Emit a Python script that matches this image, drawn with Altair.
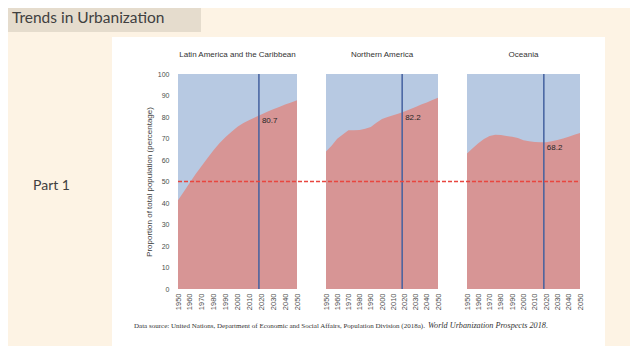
import altair as alt
import pandas as pd

# ---------------- data ----------------
years = [1950, 1955, 1960, 1965, 1970, 1975, 1980, 1985, 1990, 1995, 2000,
         2005, 2010, 2015, 2018, 2020, 2025, 2030, 2035, 2040, 2045, 2050]
latin_america = [41.3, 45.3, 49.5, 53.6, 57.3, 61.0, 64.6, 67.9, 70.7, 73.1, 75.5,
                 77.2, 78.6, 79.9, 80.7, 81.2, 82.4, 83.6, 84.7, 85.8, 86.8, 87.8]
northern_america = [63.9, 66.6, 69.9, 71.9, 73.8, 73.8, 73.9, 74.5, 75.4, 77.3, 79.1,
                    80.0, 80.8, 81.6, 82.2, 82.6, 83.6, 84.7, 85.8, 86.8, 87.9, 89.0]
oceania = [63.0, 65.5, 67.8, 69.8, 71.2, 71.8, 71.6, 71.2, 70.8, 70.2, 69.2,
           68.7, 68.4, 68.3, 68.2, 68.3, 68.7, 69.3, 70.0, 70.8, 71.7, 72.6]
series = [latin_america, northern_america, oceania]
regions = ["Latin America and the Caribbean", "Northern America", "Oceania"]
current_year = 2018
current_values = [80.7, 82.2, 68.2]
x_ticks = list(range(1950, 2051, 10))
y_ticks = list(range(0, 101, 10))
threshold = 50

slide_title = "Trends in Urbanization"
part_label = "Part 1"
y_title = "Proportion  of total population (percentage)"
source_plain = "Data source: United Nations, Department of Economic and Social Affairs, Population Division (2018a)."
source_italic = "World Urbanization Prospects 2018."

# ---------------- style ----------------
BLUE = "#b7c9e2"
RED = "#d79595"
LINE = "#44619f"
DASH = "#e8463f"
CREAM = "#fdf3e4"
BEIGE = "#e5dccd"
FONT = "Liberation Sans"

widths = [119, 112, 113]
H = 215
SPACING = 29

one = pd.DataFrame({"k": [0]})

xscale = alt.Scale(domain=[1950, 2050], nice=False, zero=False)
yscale = alt.Scale(domain=[0, 100], nice=False, zero=True)

X_AXIS = alt.Axis(values=x_ticks, format="d", labelAngle=-90, labelFontSize=7.5,
                  labelColor="#4d4d4d", labelPadding=4, domain=False, ticks=False,
                  grid=False, title=None, zindex=1, labelFont=FONT)
Y_AXIS = alt.Axis(values=y_ticks, labelFontSize=7, labelColor="#4d4d4d", labelFont=FONT,
                  domain=False, ticks=False, grid=False, labelPadding=9,
                  title=y_title, titleFontSize=8, titleFontWeight="normal",
                  titleColor="#404040", titleFont=FONT, titlePadding=4, zindex=1)


def deco_rect(color, x, x2, y, y2):
    return alt.Chart(one).mark_rect(color=color).encode(
        x=alt.value(x), x2=alt.value(x2), y=alt.value(y), y2=alt.value(y2))


def deco_text(text, x, y, size, font, color, style="normal", align="left"):
    return alt.Chart(one).mark_text(
        text=text, fontSize=size, font=font, color=color, fontStyle=style,
        align=align, baseline="middle").encode(x=alt.value(x), y=alt.value(y))


def panel(i):
    w = widths[i]
    df = pd.DataFrame({"year": years, "pct": series[i]})
    cur = pd.DataFrame({"year": [current_year], "pct": [current_values[i]]})
    layers = []
    if i == 0:
        layers += [
            deco_rect(CREAM, -170, 452, -66, 272),
            deco_rect(BEIGE, -170, 23, -66, -42),
            deco_text(slide_title, -166, -56, 15.5, "Lato", "#404040"),
            deco_rect("#ffffff", -66, 427, -37, 272),
            deco_text(part_label, -145, 112, 14, "Lato", "#404040"),
            deco_text(source_plain, -44, 252, 7, "Liberation Serif", "#333333"),
            deco_text(source_italic, 250, 252, 8.2, "Liberation Serif", "#333333", "italic"),
        ]
    # plot background (rural share, up to 100 %)
    blue = deco_rect(BLUE, 0, w, 0, H)
    red = alt.Chart(df).mark_area(color=RED).encode(
        x=alt.X("year:Q", scale=xscale, axis=X_AXIS),
        y=alt.Y("pct:Q", scale=yscale, axis=Y_AXIS if i == 0 else None))
    rule = alt.Chart(cur).mark_rule(color=LINE, strokeWidth=1.5).encode(
        x=alt.X("year:Q", scale=xscale, axis=None))
    label = alt.Chart(cur).mark_text(align="left", baseline="middle", dx=3, dy=6,
                                     fontSize=8, font=FONT, color="#262626").encode(
        x=alt.X("year:Q", scale=xscale, axis=None),
        y=alt.Y("pct:Q", scale=yscale, axis=None),
        text=alt.Text("pct:Q", format=".1f"))
    ptitle = deco_text(regions[i], w / 2, -19, 8, FONT, "#333333", align="center")
    layers += [blue, red, rule, label, ptitle]
    if i == 2:
        start = -(widths[0] + widths[1] + 2 * SPACING)
        thr = pd.DataFrame({"pct": [threshold]})
        dash = alt.Chart(thr).mark_rule(color=DASH, stroke=DASH, strokeDash=[4, 2],
                                        strokeWidth=1.3, opacity=1).encode(
            x=alt.value(start), x2=alt.value(w),
            y=alt.Y("pct:Q", scale=yscale, axis=None))
        layers.append(dash)
    return alt.layer(*layers).resolve_axis(x="independent", y="independent").properties(
        width=w, height=H)


chart = alt.hconcat(panel(0), panel(1), panel(2), spacing=SPACING, bounds="flush").properties(
    padding=0, background=CREAM
).configure_view(stroke=None)

chart.save("out.html", embed_options={"renderer": "svg", "actions": False})
